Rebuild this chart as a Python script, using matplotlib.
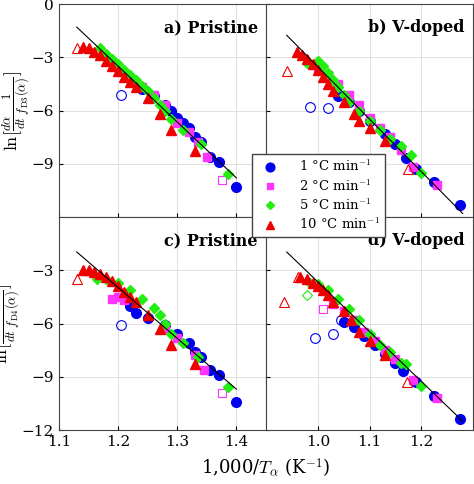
import matplotlib
matplotlib.use("Agg")
import matplotlib.pyplot as plt

plt.rcParams['font.family'] = ['DejaVu Serif']
plt.rcParams['mathtext.fontset'] = 'cm'

# ---- data: (x list, y list) per series; open = outliers ----
a_red_x = [1.14,1.15,1.16,1.17,1.18,1.19,1.20,1.21,1.22,1.23,1.25,1.27,1.29,1.33]
a_red_y = [-2.4,-2.5,-2.7,-2.9,-3.2,-3.5,-3.8,-4.1,-4.4,-4.7,-5.3,-6.2,-7.1,-8.3]
a_grn_x = [1.17,1.18,1.19,1.20,1.21,1.22,1.23,1.24,1.25,1.26,1.27,1.28,1.29,1.31,1.34,1.385]
a_grn_y = [-2.5,-2.8,-3.1,-3.4,-3.7,-4.0,-4.3,-4.6,-4.9,-5.3,-5.7,-6.0,-6.5,-7.1,-7.9,-9.6]
a_mag_x = [1.24,1.26,1.28,1.30,1.32,1.335,1.35]
a_mag_y = [-4.7,-5.1,-5.7,-6.7,-7.2,-7.8,-8.6]
a_blu_x = [1.24,1.26,1.28,1.29,1.30,1.31,1.32,1.33,1.34,1.355,1.37,1.40]
a_blu_y = [-4.8,-5.2,-5.7,-6.0,-6.4,-6.7,-7.0,-7.5,-7.8,-8.6,-8.9,-10.3]
a_open = {'red': ([1.13], [-2.5]), 'mag': ([1.375], [-9.9]), 'grn': ([], []), 'blu': ([1.205], [-5.1])}
a_fit = ([1.13, 1.40], [-1.3, -9.8])

b_red_x = [0.96,0.97,0.98,0.99,1.00,1.01,1.02,1.03,1.05,1.07,1.08,1.10,1.13]
b_red_y = [-2.7,-2.9,-3.1,-3.4,-3.7,-4.1,-4.5,-4.9,-5.5,-6.2,-6.6,-7.0,-7.7]
b_grn_x = [0.98,1.00,1.01,1.02,1.03,1.04,1.05,1.06,1.08,1.10,1.12,1.14,1.16,1.18,1.20]
b_grn_y = [-3.3,-3.2,-3.5,-3.9,-4.3,-4.7,-5.1,-5.5,-6.0,-6.6,-7.1,-7.6,-8.0,-8.5,-9.5]
b_mag_x = [1.00,1.02,1.04,1.06,1.08,1.10,1.12,1.14,1.16,1.185,1.23]
b_mag_y = [-3.6,-4.0,-4.5,-5.1,-5.7,-6.4,-7.0,-7.5,-8.2,-9.2,-10.2]
b_blu_x = [1.04,1.06,1.08,1.10,1.13,1.15,1.17,1.19,1.225,1.275]
b_blu_y = [-5.2,-5.5,-6.0,-6.6,-7.3,-7.9,-8.7,-9.3,-10.0,-11.3]
b_open = {'red': ([0.94,1.175], [-3.8,-9.3]), 'mag': ([], []), 'grn': ([], []), 'blu': ([0.985,1.02], [-5.8,-5.85])}
b_fit = ([0.94, 1.28], [-1.76, -11.8])

c_red_x = [1.14,1.15,1.16,1.17,1.18,1.19,1.20,1.21,1.22,1.23,1.25,1.27,1.29,1.33]
c_red_y = [-3.0,-3.0,-3.1,-3.2,-3.4,-3.6,-3.9,-4.2,-4.5,-4.8,-5.5,-6.3,-7.2,-8.3]
c_grn_x = [1.165,1.18,1.20,1.22,1.24,1.26,1.27,1.28,1.29,1.31,1.335,1.385]
c_grn_y = [-3.5,-3.5,-3.7,-4.1,-4.6,-5.1,-5.5,-6.0,-6.6,-7.1,-7.9,-9.6]
c_mag_x = [1.19,1.20,1.21,1.28,1.30,1.33,1.345]
c_mag_y = [-4.6,-4.5,-4.7,-6.3,-6.8,-7.8,-8.6]
c_blu_x = [1.22,1.23,1.25,1.28,1.30,1.32,1.33,1.34,1.355,1.37,1.40]
c_blu_y = [-5.0,-5.4,-5.7,-6.1,-6.6,-7.1,-7.6,-7.9,-8.6,-8.9,-10.4]
c_open = {'red': ([1.13], [-3.5]), 'mag': ([1.375], [-9.9]), 'grn': ([], []), 'blu': ([1.205], [-6.1])}
c_fit = ([1.13, 1.40], [-1.97, -9.7])

d_red_x = [0.965,0.98,0.99,1.00,1.01,1.02,1.03,1.05,1.065,1.08,1.10,1.13]
d_red_y = [-3.4,-3.5,-3.7,-3.9,-4.1,-4.4,-4.8,-5.3,-5.8,-6.5,-7.0,-7.8]
d_grn_x = [0.985,1.00,1.02,1.04,1.06,1.08,1.10,1.12,1.14,1.16,1.17,1.20]
d_grn_y = [-3.7,-3.8,-4.1,-4.6,-5.2,-5.8,-6.6,-7.2,-7.6,-8.2,-8.3,-9.5]
d_mag_x = [1.03,1.05,1.07,1.09,1.11,1.13,1.15,1.185,1.23]
d_mag_y = [-4.9,-5.3,-5.8,-6.5,-7.0,-7.5,-8.0,-9.2,-10.2]
d_blu_x = [1.05,1.07,1.09,1.11,1.13,1.15,1.165,1.19,1.225,1.275]
d_blu_y = [-5.9,-6.2,-6.7,-7.2,-7.7,-8.2,-8.7,-9.3,-10.1,-11.4]
d_open = {'red': ([0.935,0.962,1.172], [-4.8,-3.4,-9.3]), 'mag': ([1.01], [-5.2]),
          'grn': ([0.98], [-4.4]), 'blu': ([0.995,1.03,1.045], [-6.8,-6.6,-5.8])}
d_fit = ([0.94, 1.28], [-1.97, -11.5])

labels = ['1 °C min$^{-1}$', '2 °C min$^{-1}$', '5 °C min$^{-1}$', '10 °C min$^{-1}$']

styles = {'blu': ('o', '#0000ee', 7), 'mag': ('s', '#ff33ff', 5.5),
          'grn': ('D', '#22ee11', 5), 'red': ('^', '#ee0000', 7)}

fig = plt.figure(figsize=(4.74, 4.84), dpi=100)
L, R, T, B = 59/474, 473/474, 1 - 4/484, 1 - 430/484
W = (R - L) / 2
H = (T - B) / 2
axes = [fig.add_axes([L + i % 2 * W, B + (1 - i // 2) * H, W, H]) for i in range(4)]

panels = [
    ('a) Pristine', (a_red_x, a_red_y), (a_grn_x, a_grn_y), (a_mag_x, a_mag_y), (a_blu_x, a_blu_y), a_open, a_fit),
    ('b) V-doped', (b_red_x, b_red_y), (b_grn_x, b_grn_y), (b_mag_x, b_mag_y), (b_blu_x, b_blu_y), b_open, b_fit),
    ('c) Pristine', (c_red_x, c_red_y), (c_grn_x, c_grn_y), (c_mag_x, c_mag_y), (c_blu_x, c_blu_y), c_open, c_fit),
    ('d) V-doped', (d_red_x, d_red_y), (d_grn_x, d_grn_y), (d_mag_x, d_mag_y), (d_blu_x, d_blu_y), d_open, d_fit),
]

handles = []
for i, (ax, (title, red, grn, mag, blu, opn, fit)) in enumerate(zip(axes, panels)):
    ax.plot(fit[0], fit[1], color='black', lw=0.8, zorder=5)
    hs = {}
    for key, data in [('blu', blu), ('mag', mag), ('grn', grn), ('red', red)]:
        m, c, s = styles[key]
        hs[key], = ax.plot(data[0], data[1], ls='none', marker=m, color=c, ms=s, mec=c, zorder=3)
        ox, oy = opn[key]
        ax.plot(ox, oy, ls='none', marker=m, mfc='none', mec=c, ms=s, mew=0.8, zorder=3)
    if i == 0:
        handles = [hs['blu'], hs['mag'], hs['grn'], hs['red']]
    ax.set_ylim(-12, 0)
    if i % 2 == 0:
        ax.set_xlim(1.1, 1.45)
        ax.set_xticks([1.1, 1.2, 1.3, 1.4])
    else:
        ax.set_xlim(0.9, 1.3)
        ax.set_xticks([1.0, 1.1, 1.2])
    if i < 2:
        ax.tick_params(labelbottom=False)
        ax.set_yticks([0, -3, -6, -9])
    else:
        ax.set_yticks([-3, -6, -9, -12])
    if i % 2 == 1:
        ax.tick_params(labelleft=False)
    ax.grid(True, color='#e0e0e0', lw=0.7)
    ax.set_axisbelow(True)
    ax.tick_params(direction='in', labelsize=11, length=3)
    for sp in ax.spines.values():
        sp.set_color('#444444')
    ax.text(0.96, 0.89, title, transform=ax.transAxes, ha='right', va='center',
            fontsize=11.5, fontweight='bold')

axes[0].set_ylabel(r'$\ln[\frac{d\alpha}{dt}\frac{1}{f_{\rm D3}(\alpha)}]$', fontsize=13, labelpad=0)
axes[2].set_ylabel(r'$\ln[\frac{d\alpha}{dt}\frac{1}{f_{\rm D4}(\alpha)}]$', fontsize=13, labelpad=0)
fig.text((L + R) / 2, 0.02, r'1,000/$T_\alpha$ (K$^{-1}$)', ha='center', fontsize=13)

fig.legend(handles, labels, loc='upper left', bbox_to_anchor=(245/474, 1 - 147/484),
           fontsize=9.5, frameon=True, fancybox=False, edgecolor='#444444',
           framealpha=1, borderpad=0.4, labelspacing=0.3, handletextpad=1.2, markerscale=0.9)

fig.savefig('out.png', dpi=100)
